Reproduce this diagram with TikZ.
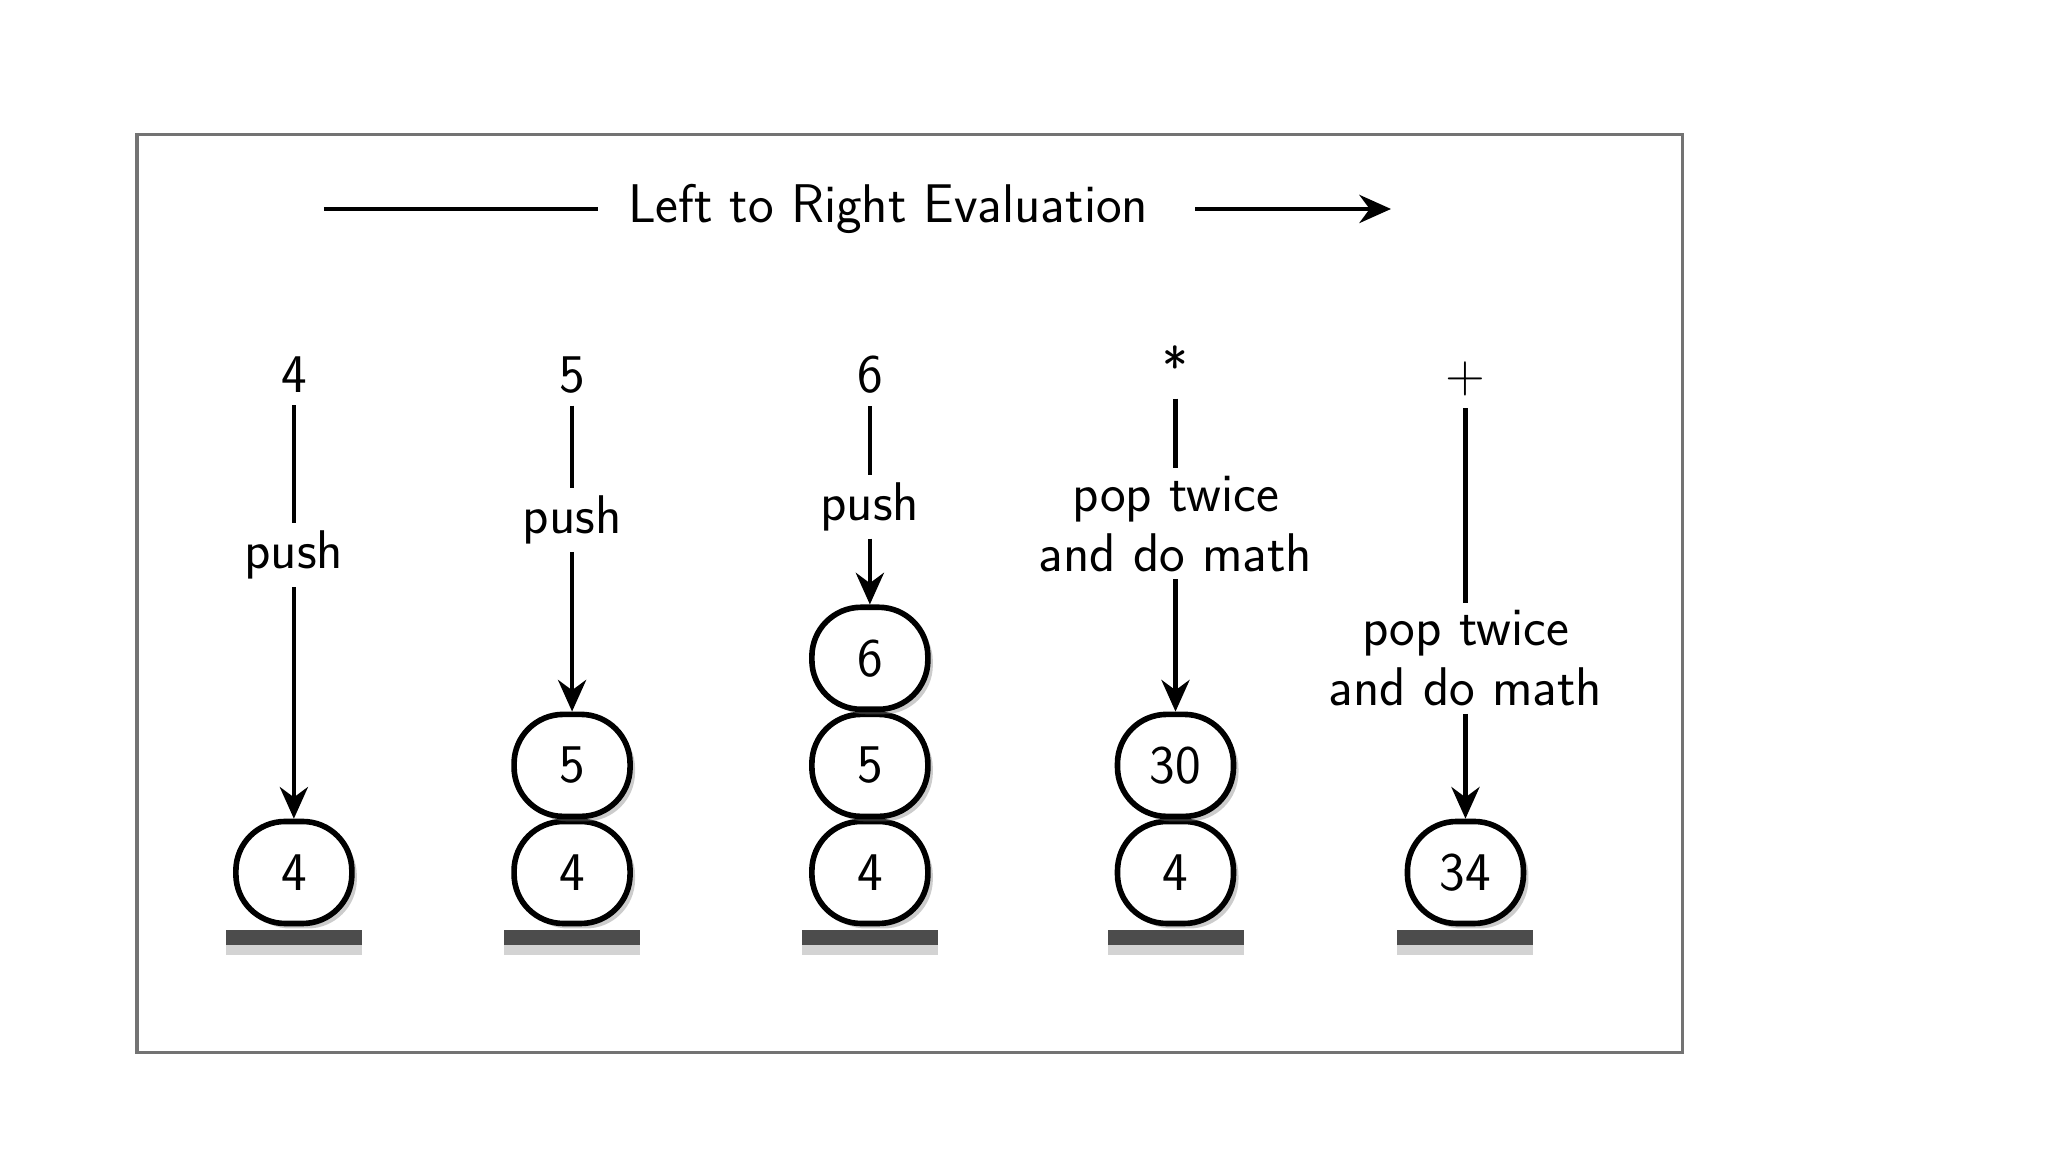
\documentclass[tikz,border=0pt]{standalone}
\usetikzlibrary{arrows.meta,shadows}
\begin{document}
\begin{tikzpicture}[x=0.013061cm,y=-0.013061cm,
  every node/.style={font=\sffamily\fontsize{15.5}{19}\selectfont},
  cell/.style={draw=black,line width=1.6pt,fill=white,rounded corners=14pt,minimum width=1.16cm,minimum height=1.02cm,drop shadow={shadow xshift=0.5mm,shadow yshift=-0.5mm,opacity=0.4}},
  base/.style={fill=black!70,minimum width=1.36cm,minimum height=0.15cm,inner sep=0pt,drop shadow={shadow xshift=0mm,shadow yshift=-1mm,opacity=0.35}},
  lbl/.style={align=center,inner sep=2pt},
  arr/.style={line width=1.3pt,-{Stealth[length=9pt,width=8pt]}},
  ln/.style={line width=1.3pt}]
\useasboundingbox (0,0) rectangle (1568,882);
\draw[black!55,line width=1pt] (105,103) rectangle (1288,806);
% header
\node (hdr) at (680,160) {Left to Right Evaluation};
\coordinate (h1) at (248,160); \coordinate (h2) at (458,160);
\coordinate (h3) at (915,160); \coordinate (h4) at (1065,160);
\draw[ln] (h1) -- (h2);
\draw[arr] (h3) -- (h4);
% bases
\foreach \x/\n in {225/b1,438/b2,666/b3,900/b4,1122/b5}
  \node[base] (\n) at (\x,718) {};
% cells
\node[cell] (c1a) at (225,668) {4};
\node[cell] (c2a) at (438,668) {4};
\node[cell] (c2b) at (438,586) {5};
\node[cell] (c3a) at (666,668) {4};
\node[cell] (c3b) at (666,586) {5};
\node[cell] (c3c) at (666,504) {6};
\node[cell] (c4a) at (900,668) {4};
\node[cell] (c4b) at (900,586) {30};
\node[cell] (c5a) at (1122,668) {34};
% tokens
\node (t1) at (225,287) {4};
\node (t2) at (438,287) {5};
\node (t3) at (666,287) {6};
\node (t4) at (900,280) {*};
\node (t5) at (1122,290) {+};
% labels
\node[lbl] (l1) at (225,425) {push};
\node[lbl] (l2) at (438,398) {push};
\node[lbl] (l3) at (666,388) {push};
\node[lbl] (l4) at (900,401) {pop twice\\[-2pt]and do math};
\node[lbl] (l5) at (1122,504) {pop twice\\[-2pt]and do math};
\foreach \t/\l/\c in {t1/l1/c1a,t2/l2/c2b,t3/l3/c3c,t4/l4/c4b,t5/l5/c5a}{
  \draw[ln] (\t) -- (\l);
  \draw[arr] (\l) -- (\c);
}
\end{tikzpicture}
\end{document}
